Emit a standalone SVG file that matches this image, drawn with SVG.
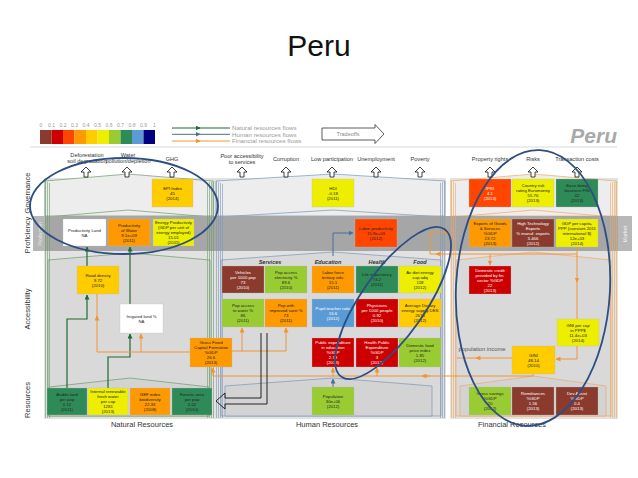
<svg xmlns="http://www.w3.org/2000/svg" width="638" height="478" viewBox="0 0 638 478">
<defs>
<style>
.t{font-family:"Liberation Sans",Arial,sans-serif}
.nt{font-family:"Liberation Sans",Arial,sans-serif;font-size:4.3px;text-anchor:middle;fill:#222}
.lt{fill:#fff}
.gl{font-family:"Liberation Sans",Arial,sans-serif;font-size:5.6px;fill:#333;text-anchor:middle}
.rl{font-family:"Liberation Sans",Arial,sans-serif;font-size:7.5px;fill:#333;text-anchor:middle}
.sec{font-family:"Liberation Sans",Arial,sans-serif;font-size:5.5px;fill:#333;text-anchor:middle;font-weight:bold;font-style:italic}
.up{fill:#fff;stroke:#111;stroke-width:0.8}
.g{stroke:#1f6b2c;stroke-width:1.2;fill:none}
.o{stroke:#f29434;stroke-width:1;fill:none}
.b{stroke:#4a6e9c;stroke-width:1;fill:none}
.el{fill:none;stroke:#2d4e82;stroke-width:1.8}
.bx{stroke:#bbb;stroke-width:0.3}
.ng{stroke:#6c9c6c;stroke-width:0.7}
.hb{stroke:#7b96b8;stroke-width:0.7}
.fo{stroke:#f0a860;stroke-width:0.7}
.c0{fill:#8b3a2e}.c1{fill:#cc0000}.c2{fill:#ff4500}.c3{fill:#ff9900}.c4{fill:#ffcc00}.c5{fill:#eeee00}.c6{fill:#99cc33}.c7{fill:#2e8b57}.c8{fill:#5b9bd5}.c9{fill:#000080}.cw{fill:#fff}
</style>
<path id="ua" d="M-2,10 V5 H-5 L0,0 L5,5 H2 V10 Z"/>
<marker id="ag" viewBox="0 0 10 10" refX="9" refY="5" markerWidth="5" markerHeight="5" markerUnits="userSpaceOnUse" orient="auto"><path d="M0,0 L10,5 L0,10 z" fill="#1f6b2c"/></marker>
<marker id="ao" viewBox="0 0 10 10" refX="9" refY="5" markerWidth="5" markerHeight="5" markerUnits="userSpaceOnUse" orient="auto"><path d="M0,0 L10,5 L0,10 z" fill="#f29434"/></marker>
<marker id="ab" viewBox="0 0 10 10" refX="9" refY="5" markerWidth="5" markerHeight="5" markerUnits="userSpaceOnUse" orient="auto"><path d="M0,0 L10,5 L0,10 z" fill="#4a6e9c"/></marker>
</defs>
<rect width="638" height="478" fill="#fff"/>
<text class="t" x="319" y="56" font-size="30" text-anchor="middle" fill="#111">Peru</text>

<g id="legend">
<rect class="c0" x="40" y="130" width="11.5" height="14"/><rect class="c1" x="51.5" y="130" width="11.5" height="14"/><rect class="c2" x="63" y="130" width="11.5" height="14"/><rect class="c3" x="74.5" y="130" width="11.5" height="14"/><rect class="c4" x="86" y="130" width="11.5" height="14"/><rect class="c5" x="97.5" y="130" width="11.5" height="14"/><rect class="c6" x="109" y="130" width="11.5" height="14"/><rect class="c7" x="120.5" y="130" width="11.5" height="14"/><rect class="c8" x="132" y="130" width="11.5" height="14"/><rect class="c9" x="143.5" y="130" width="11.5" height="14"/>
<g class="t" font-size="5" fill="#999" text-anchor="middle">
<text x="41" y="127">0</text><text x="51.5" y="127">0.1</text><text x="63" y="127">0.2</text><text x="74.5" y="127">0.3</text><text x="86" y="127">0.4</text><text x="97.5" y="127">0.5</text><text x="109" y="127">0.6</text><text x="120.5" y="127">0.7</text><text x="132" y="127">0.8</text><text x="143.5" y="127">0.9</text><text x="154.5" y="127">1</text>
</g>
<path d="M172,128 H200" stroke="#1f6b2c" stroke-width="1" marker-end="url(#ag)"/><path d="M199,128 H230" stroke="#1f6b2c" stroke-width="1"/>
<path d="M172,134.3 H200" stroke="#4a6e9c" stroke-width="1" marker-end="url(#ab)"/><path d="M199,134.3 H230" stroke="#4a6e9c" stroke-width="1"/>
<path d="M172,141 H200" stroke="#f29434" stroke-width="1" marker-end="url(#ao)"/><path d="M199,141 H230" stroke="#f29434" stroke-width="1"/>
<g class="t" font-size="6.2" fill="#999">
<text x="232" y="130">Natural resources flows</text><text x="232" y="136.5">Human resources flows</text><text x="232" y="143">Financial resources flows</text>
</g>
<path d="M322,128 H375 V124.5 L384,134 L375,143.5 V140 H322 Z" fill="#fff" stroke="#333" stroke-width="0.8"/>
<text class="t" x="348" y="136" font-size="5.5" fill="#888" text-anchor="middle">Tradeoffs</text>
<text class="t" x="617" y="143" font-size="21" font-weight="bold" font-style="italic" fill="#a9a9a9" text-anchor="end">Peru</text>
<line x1="30" y1="147" x2="617" y2="147" stroke="#d0d0d0" stroke-width="0.8"/>
</g>

<g id="panels">
<rect x="44" y="178" width="171" height="241" fill="#e2e2e2"/>
<polygon class="ng" points="45,181 128,174 213,181 213,216 45,216" fill="#ededed"/>
<polygon class="ng" points="48,260 130,253 210,260 210,416 48,416" fill="#d9d9d9"/>
<polygon class="ng" points="49,387 130,378 209,387 209,416 49,416" fill="#d3d3d3"/>
<rect x="215" y="178" width="231" height="241" fill="#e2e2e2"/>
<polygon class="hb" points="216,181 333,174 445,181 445,216 216,216" fill="#ededed"/>
<polygon class="hb" points="221,260 333,252 441,260 441,416 221,416" fill="#d9d9d9"/>
<polygon class="hb" points="225,386 333,378 432,386 432,416 225,416" fill="#d3d3d3"/>
<rect x="450" y="178" width="168" height="241" fill="#e2e2e2"/>
<polygon class="fo" points="451,181 533,174 616,181 616,216 451,216" fill="#ededed"/>
<polygon class="fo" points="456,260 533,252 611,260 611,416 456,416" fill="#d9d9d9"/>
<polygon class="fo" points="460,386 533,376 606,386 606,416 460,416" fill="#d3d3d3"/>
<polyline class="ng" points="47,217 128,210 211,217" fill="none"/>
<polyline class="hb" points="218,217 333,210 443,217" fill="none"/>
<polyline class="fo" points="453,217 533,210 614,217" fill="none"/>
<rect x="33" y="216" width="599" height="35" fill="#a6a6a6"/>
<rect x="33" y="216" width="12" height="35" fill="#b6b6b6"/>
<rect x="618" y="216" width="14" height="35" fill="#b8b8b8"/>
<text class="t" transform="translate(41.5,234) rotate(-90)" font-size="5" fill="#e8e8e8" text-anchor="middle">Production</text>
<text class="t" transform="translate(627,234) rotate(-90)" font-size="5.5" fill="#f4f4f4" text-anchor="middle">Market</text>
<g fill="none" stroke-width="0.6">
<path stroke="#6c9c6c" d="M45.5,181 V418 M47.5,182 V418 M49.5,183 V418 M207.5,183 V418 M209.5,182 V418 M211.5,182 V418 M213.5,181 V418"/>
<path stroke="#7b96b8" d="M216.5,181 V418 M218.5,182 V418 M220.5,183 V418 M222.5,184 V418 M440.5,183 V418 M442.5,182 V418 M444.5,181 V418"/>
<path stroke="#f0a860" d="M451.5,181 V418 M453.5,182 V418 M455.5,183 V418 M610.5,183 V418 M612.5,182 V418 M614.5,182 V418 M616.5,181 V418"/>
</g>
<g class="t" font-size="7.5" fill="#333" text-anchor="middle">
<text transform="translate(30,193) rotate(-90)">Governance</text>
<text transform="translate(30,235) rotate(-90)">Proficiency</text>
<text transform="translate(30,309) rotate(-90)">Accessibility</text>
<text transform="translate(30,400) rotate(-90)">Resources</text>
</g>
<text class="rl" x="142" y="427">Natural Resources</text>
<text class="rl" x="327" y="427">Human Resources</text>
<text class="rl" x="512" y="427">Financial Resources</text>
<text class="sec" x="270" y="264">Services</text>
<text class="sec" x="328" y="264">Education</text>
<text class="sec" x="377" y="264">Health</text>
<text class="sec" x="420" y="264">Food</text>
<text class="t" x="482" y="351" font-size="5.8" fill="#555" text-anchor="middle">population income</text>
</g>

<g id="governance-labels">
<text class="gl" x="87" y="157">Deforestation</text><text class="gl" x="87" y="163">soil degradation</text>
<text class="gl" x="128" y="157">Water</text><text class="gl" x="128" y="163">pollution/depletion</text>
<text class="gl" x="172" y="161">GHG</text>
<text class="gl" x="242" y="157.5">Poor accessibility</text><text class="gl" x="242" y="163.5">to services</text>
<text class="gl" x="286" y="161">Corruption</text>
<text class="gl" x="332" y="161">Low participation</text>
<text class="gl" x="376" y="161">Unemployment</text>
<text class="gl" x="420" y="161">Poverty</text>
<text class="gl" x="490" y="161">Property rights</text>
<text class="gl" x="533" y="161">Risks</text>
<text class="gl" x="577" y="161">Transaction costs</text>
<g class="up">
<use href="#ua" x="86" y="167"/><use href="#ua" x="127" y="167"/><use href="#ua" x="172" y="167"/>
<use href="#ua" x="242" y="167"/><use href="#ua" x="286" y="167"/><use href="#ua" x="332" y="167"/><use href="#ua" x="376" y="167"/><use href="#ua" x="420" y="167"/>
<use href="#ua" x="490" y="167"/><use href="#ua" x="533" y="167"/><use href="#ua" x="577" y="167"/>
</g>
</g>

<g id="connectors">
<path class="g" d="M67,388 V319 H87 V295" marker-end="url(#ag)"/>
<path class="g" d="M87,266 V247" marker-end="url(#ag)"/>
<path class="g" d="M108,388 V357 H130 V334" marker-end="url(#ag)"/>
<path class="g" d="M130,304 V247" marker-end="url(#ag)"/>
<path class="o" d="M190,352 H97 V316" marker-end="url(#ao)"/><path class="o" d="M97,317 V294"/>
<path class="o" d="M141,352 V334" marker-end="url(#ao)"/>
<path class="o" d="M232,351 H286"/>
<path class="o" d="M242,351 V328" marker-end="url(#ao)"/>
<path class="o" d="M286,351 V328" marker-end="url(#ao)"/>
<path class="o" d="M533,374 V376 H213 V368" marker-end="url(#ao)"/>
<path class="o" d="M430,376 H422" marker-end="url(#ao)"/>
<path class="o" d="M333,376 V368" marker-end="url(#ao)"/>
<path class="o" d="M377,376 V368" marker-end="url(#ao)"/>
<path class="o" d="M577,346 V359 H556" marker-end="url(#ao)"/>
<path class="o" d="M512,358 H476" marker-end="url(#ao)"/><path class="o" d="M477,358 H457"/>
<path class="o" d="M577,247 V282" marker-end="url(#ao)"/><path class="o" d="M577,281 V319"/>
<path class="o" d="M577,254 H490 V265" marker-end="url(#ao)"/>
<path class="o" d="M490,254 H436" marker-end="url(#ao)"/>
<path class="o" d="M437,254 H430 V232 H448" marker-end="url(#ao)"/>
<path class="b" d="M333,256 V233 H353" marker-end="url(#ab)"/>
<path class="b" d="M333,387 V379" marker-end="url(#ab)"/>
<path d="M261,333 V398 H225 V393 L216,401 L225,409 V404 H267 V333" fill="none" stroke="#222" stroke-width="1"/>
</g>

<g id="epi"><rect class="bx c4" x="152" y="179" width="41" height="28"/><text class="nt"><tspan x="172.5" y="189.5">EPI Index</tspan><tspan x="172.5" y="194.5">45</tspan><tspan x="172.5" y="199.5">(2014)</tspan></text></g>
<g id="prod-land"><rect class="bx cw" x="63" y="219" width="43" height="27"/><text class="nt"><tspan x="84.5" y="231.5">Productivity Land</tspan><tspan x="84.5" y="236.5">NA</tspan></text></g>
<g id="prod-water"><rect class="bx c3" x="108" y="219" width="42" height="27"/><text class="nt"><tspan x="129" y="226.5">Productivity</tspan><tspan x="129" y="231.5">of Water</tspan><tspan x="129" y="236.5">9.1e+09</tspan><tspan x="129" y="241.5">(2011)</tspan></text></g>
<g id="prod-energy"><rect class="bx c5" x="153" y="219" width="41" height="27"/><text class="nt"><tspan x="173.5" y="224">Energy Productivity</tspan><tspan x="173.5" y="229">(GDP per unit of</tspan><tspan x="173.5" y="234">energy employed)</tspan><tspan x="173.5" y="239">15.01</tspan><tspan x="173.5" y="244">(2011)</tspan></text></g>
<g id="road"><rect class="bx c4" x="77" y="266" width="42" height="28"/><text class="nt"><tspan x="98" y="276.5">Road density</tspan><tspan x="98" y="281.5">9.72</tspan><tspan x="98" y="286.5">(2010)</tspan></text></g>
<g id="irrigated"><rect class="bx cw" x="120" y="304" width="43" height="29"/><text class="nt"><tspan x="141.5" y="317.5">Irrigated land %</tspan><tspan x="141.5" y="322.5">NA</tspan></text></g>
<g id="gfcf"><rect class="bx c3" x="190" y="338" width="42" height="29"/><text class="nt"><tspan x="211" y="344">Gross Fixed</tspan><tspan x="211" y="349">Capital Formation</tspan><tspan x="211" y="354">%GDP</tspan><tspan x="211" y="359">26.6</tspan><tspan x="211" y="364">(2013)</tspan></text></g>
<g id="arable"><rect class="bx c7" x="47" y="388" width="40" height="27"/><text class="nt"><tspan x="67" y="395.5">Arable land</tspan><tspan x="67" y="400.5">per pop</tspan><tspan x="67" y="405.5">0.12</tspan><tspan x="67" y="410.5">(2011)</tspan></text></g>
<g id="freshwater"><rect class="bx c5" x="88" y="388" width="40" height="27"/><text class="nt"><tspan x="108" y="393">Internal renewable</tspan><tspan x="108" y="398">fresh water</tspan><tspan x="108" y="403">per cap</tspan><tspan x="108" y="408">1281</tspan><tspan x="108" y="413">(2013)</tspan></text></g>
<g id="gef"><rect class="bx c3" x="130" y="388" width="40" height="27"/><text class="nt"><tspan x="150" y="395.5">GEF index</tspan><tspan x="150" y="400.5">biodiversity</tspan><tspan x="150" y="405.5">22.36</tspan><tspan x="150" y="410.5">(2008)</tspan></text></g>
<g id="forests"><rect class="bx c7" x="172" y="388" width="40" height="27"/><text class="nt"><tspan x="192" y="395.5">Forests area</tspan><tspan x="192" y="400.5">per pop</tspan><tspan x="192" y="405.5">2.02</tspan><tspan x="192" y="410.5">(2010)</tspan></text></g>

<g id="hdi"><rect class="bx c5" x="312" y="179" width="42" height="28"/><text class="nt"><tspan x="333" y="189.5">HDI</tspan><tspan x="333" y="194.5">-0.18</tspan><tspan x="333" y="199.5">(2011)</tspan></text></g>
<g id="labor-prod"><rect class="bx c2" x="355" y="219" width="42" height="28"/><text class="nt"><tspan x="376" y="229.5">Labor productivity</tspan><tspan x="376" y="234.5">15.8e+03</tspan><tspan x="376" y="239.5">(2012)</tspan></text></g>
<g id="vehicles"><rect class="bx c0" x="222" y="266" width="42" height="27"/><text class="nt lt"><tspan x="243" y="273.5">Vehicles</tspan><tspan x="243" y="278.5">per 1000 pop</tspan><tspan x="243" y="283.5">73</tspan><tspan x="243" y="288.5">(2010)</tspan></text></g>
<g id="electricity"><rect class="bx c6" x="265" y="266" width="42" height="27"/><text class="nt"><tspan x="286" y="273.5">Pop access</tspan><tspan x="286" y="278.5">electricity %</tspan><tspan x="286" y="283.5">89.6</tspan><tspan x="286" y="288.5">(2010)</tspan></text></g>
<g id="labor-force"><rect class="bx c3" x="312" y="266" width="42" height="27"/><text class="nt"><tspan x="333" y="273.5">Labor force</tspan><tspan x="333" y="278.5">tertiary edu.</tspan><tspan x="333" y="283.5">15.1</tspan><tspan x="333" y="288.5">(2011)</tspan></text></g>
<g id="life-exp"><rect class="bx c7" x="356" y="266" width="42" height="27"/><text class="nt"><tspan x="377" y="276">Life expectancy</tspan><tspan x="377" y="281">74.2</tspan><tspan x="377" y="286">(2011)</tspan></text></g>
<g id="diet-adq"><rect class="bx c5" x="399" y="266" width="42" height="27"/><text class="nt"><tspan x="420" y="273.5">Av diet energy</tspan><tspan x="420" y="278.5">sup adq</tspan><tspan x="420" y="283.5">118</tspan><tspan x="420" y="288.5">(2012)</tspan></text></g>
<g id="water-access"><rect class="bx c6" x="222" y="299" width="42" height="28"/><text class="nt"><tspan x="243" y="307">Pop access</tspan><tspan x="243" y="312">to water %</tspan><tspan x="243" y="317">86</tspan><tspan x="243" y="322">(2011)</tspan></text></g>
<g id="sanitation"><rect class="bx c3" x="265" y="299" width="42" height="28"/><text class="nt"><tspan x="286" y="307">Pop with</tspan><tspan x="286" y="312">improved sanit %</tspan><tspan x="286" y="317">73</tspan><tspan x="286" y="322">(2011)</tspan></text></g>
<g id="pupil"><rect class="bx c8" x="312" y="299" width="42" height="28"/><text class="nt lt"><tspan x="333" y="309.5">Pupil-teacher ratio</tspan><tspan x="333" y="314.5">16.6</tspan><tspan x="333" y="319.5">(2012)</tspan></text></g>
<g id="physicians"><rect class="bx c1" x="356" y="299" width="42" height="28"/><text class="nt lt"><tspan x="377" y="307">Physicians</tspan><tspan x="377" y="312">per 1000 people</tspan><tspan x="377" y="317">0.92</tspan><tspan x="377" y="322">(2010)</tspan></text></g>
<g id="des"><rect class="bx c4" x="399" y="299" width="42" height="28"/><text class="nt"><tspan x="420" y="307">Average Dietary</tspan><tspan x="420" y="312">energy supply DES</tspan><tspan x="420" y="317">2670</tspan><tspan x="420" y="322">(2012)</tspan></text></g>
<g id="edu-exp"><rect class="bx c1" x="312" y="338" width="42" height="29"/><text class="nt lt"><tspan x="333" y="344">Public expenditure</tspan><tspan x="333" y="349">in education</tspan><tspan x="333" y="354">%GDP</tspan><tspan x="333" y="359">2.78</tspan><tspan x="333" y="364">(2013)</tspan></text></g>
<g id="health-exp"><rect class="bx c1" x="356" y="338" width="42" height="29"/><text class="nt lt"><tspan x="377" y="344">Health Public</tspan><tspan x="377" y="349">Expenditure</tspan><tspan x="377" y="354">%GDP</tspan><tspan x="377" y="359">3</tspan><tspan x="377" y="364">(2012)</tspan></text></g>
<g id="food-price"><rect class="bx c6" x="399" y="338" width="42" height="29"/><text class="nt"><tspan x="420" y="346.5">Domestic food</tspan><tspan x="420" y="351.5">price index</tspan><tspan x="420" y="356.5">1.85</tspan><tspan x="420" y="361.5">(2012)</tspan></text></g>
<g id="population"><rect class="bx c6" x="312" y="387" width="42" height="28"/><text class="nt"><tspan x="333" y="397.5">Population</tspan><tspan x="333" y="402.5">30e+06</tspan><tspan x="333" y="407.5">(2012)</tspan></text></g>

<g id="ipri"><rect class="bx c2" x="469" y="179" width="42" height="28"/><text class="nt lt"><tspan x="490" y="189.5">IPRI</tspan><tspan x="490" y="194.5">4.1</tspan><tspan x="490" y="199.5">(2013)</tspan></text></g>
<g id="country-risk"><rect class="bx c5" x="512" y="179" width="42" height="28"/><text class="nt"><tspan x="533" y="187">Country risk</tspan><tspan x="533" y="192">rating Euromoney</tspan><tspan x="533" y="197">55.76</tspan><tspan x="533" y="202">(2013)</tspan></text></g>
<g id="ease"><rect class="bx c7" x="556" y="179" width="42" height="28"/><text class="nt"><tspan x="577" y="187">Ease doing</tspan><tspan x="577" y="192">business FIN</tspan><tspan x="577" y="197">42</tspan><tspan x="577" y="202">(2013)</tspan></text></g>
<g id="exports"><rect class="bx c3" x="469" y="219" width="42" height="28"/><text class="nt"><tspan x="490" y="224.5">Exports of Goods</tspan><tspan x="490" y="229.5">&amp; Services</tspan><tspan x="490" y="234.5">%GDP</tspan><tspan x="490" y="239.5">23.72</tspan><tspan x="490" y="244.5">(2013)</tspan></text></g>
<g id="hightech"><rect class="bx c0" x="512" y="219" width="42" height="28"/><text class="nt lt"><tspan x="533" y="224.5">High Technology</tspan><tspan x="533" y="229.5">Exports</tspan><tspan x="533" y="234.5">% manuf. exports</tspan><tspan x="533" y="239.5">3.466</tspan><tspan x="533" y="244.5">(2012)</tspan></text></g>
<g id="gdp-pc"><rect class="bx c5" x="556" y="219" width="42" height="28"/><text class="nt"><tspan x="577" y="224.5">GDP per capita,</tspan><tspan x="577" y="229.5">PPP (constant 2011</tspan><tspan x="577" y="234.5">international $)</tspan><tspan x="577" y="239.5">12e+03</tspan><tspan x="577" y="244.5">(2014)</tspan></text></g>
<g id="credit"><rect class="bx c1" x="469" y="266" width="42" height="28"/><text class="nt lt"><tspan x="490" y="271.5">Domestic credit</tspan><tspan x="490" y="276.5">provided by fin.</tspan><tspan x="490" y="281.5">sector %GDP</tspan><tspan x="490" y="286.5">22</tspan><tspan x="490" y="291.5">(2013)</tspan></text></g>
<g id="gni"><rect class="bx c5" x="557" y="319" width="42" height="27"/><text class="nt"><tspan x="578" y="326.5">GNI per cap</tspan><tspan x="578" y="331.5">in PPP$</tspan><tspan x="578" y="336.5">11.4e+03</tspan><tspan x="578" y="341.5">(2014)</tspan></text></g>
<g id="gini"><rect class="bx c4" x="512" y="346" width="43" height="28"/><text class="nt"><tspan x="533.5" y="356.5">GINI</tspan><tspan x="533.5" y="361.5">48.14</tspan><tspan x="533.5" y="366.5">(2010)</tspan></text></g>
<g id="savings"><rect class="bx c6" x="469" y="387" width="42" height="28"/><text class="nt"><tspan x="490" y="395">Gross savings</tspan><tspan x="490" y="400">%GDP</tspan><tspan x="490" y="405">20</tspan><tspan x="490" y="410">(2012)</tspan></text></g>
<g id="remittances"><rect class="bx c0" x="512" y="387" width="42" height="28"/><text class="nt lt"><tspan x="533" y="395">Remittances</tspan><tspan x="533" y="400">%GDP</tspan><tspan x="533" y="405">1.56</tspan><tspan x="533" y="410">(2013)</tspan></text></g>
<g id="dev-assist"><rect class="bx c0" x="556" y="387" width="42" height="28"/><text class="nt lt"><tspan x="577" y="395">Dev Assist</tspan><tspan x="577" y="400">%GDP</tspan><tspan x="577" y="405">0.4</tspan><tspan x="577" y="410">(2013)</tspan></text></g>

<g id="highlights">
<ellipse class="el" cx="124" cy="206" rx="94" ry="48"/>
<ellipse class="el" cx="393" cy="303" rx="90" ry="32" transform="rotate(-55 393 303)"/>
<ellipse class="el" cx="533" cy="288" rx="77" ry="138" transform="rotate(3 533 288)"/>
</g>
</svg>
